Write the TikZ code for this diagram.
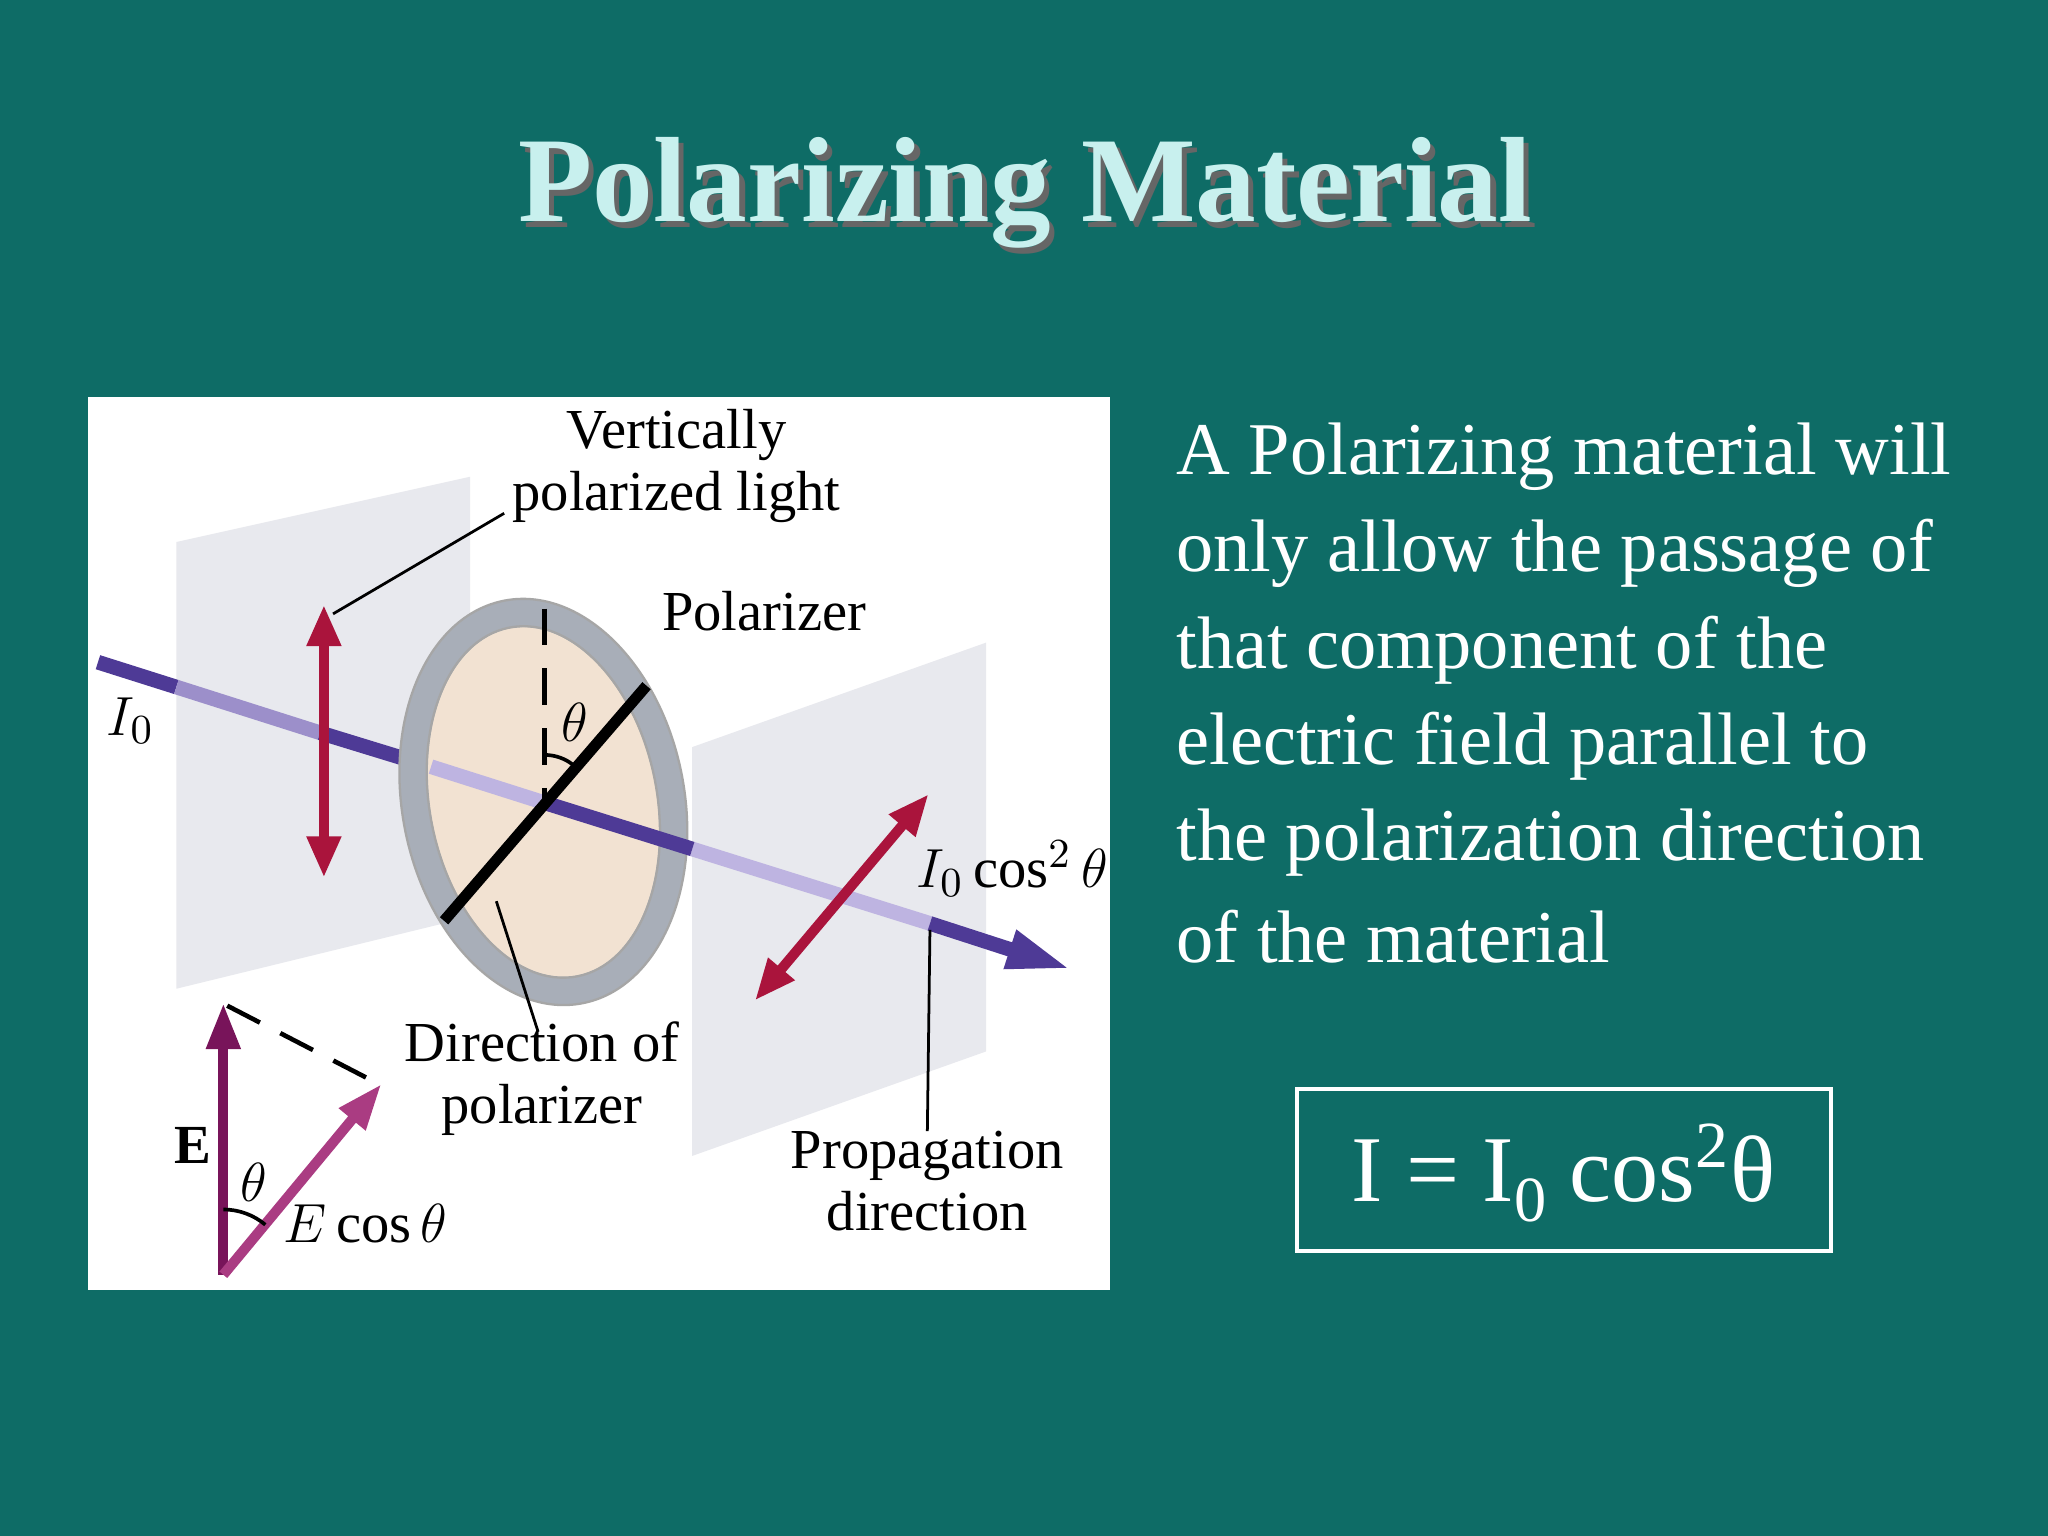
\documentclass[tikz,border=0pt]{standalone}
\usepackage{fontspec}
\setmainfont{Liberation Serif}
\usetikzlibrary{arrows.meta,shadows}
\definecolor{bg}{RGB}{14,108,102}
\definecolor{ttl}{RGB}{200,240,238}
\definecolor{panel}{RGB}{232,233,238}
\definecolor{beam}{RGB}{78,58,150}
\definecolor{beamlt}{RGB}{190,180,225}
\definecolor{redarr}{RGB}{170,20,60}
\definecolor{ring}{RGB}{168,174,184}
\definecolor{disk}{RGB}{242,226,210}
\definecolor{evec}{RGB}{120,20,90}
\definecolor{ecos}{RGB}{170,60,130}
\tikzset{
  lbl/.style={font=\fontsize{12.3}{13.5}\selectfont, align=center, inner sep=0pt},
  body/.style={font=\fontsize{16.2}{21}\selectfont, text=white, anchor=west, inner sep=0pt},
  dbl/.style={redarr, line width=2.2pt, {Triangle[length=9pt,width=7pt]}-{Triangle[length=9pt,width=7pt]}},
  lead/.style={black, line width=0.6pt}
}
\begin{document}
\begin{tikzpicture}[x=0.01cm,y=-0.01cm]
\fill[bg] (0,0) rectangle (1568,1176);
\useasboundingbox (0,0) rectangle (1568,1176);
% title
\node[text=black!60, font=\fontsize{26.4}{32}\selectfont\bfseries] at (789,152) {Polarizing Material};
\node (title) [text=ttl, font=\fontsize{26.4}{32}\selectfont\bfseries] at (785,148) {Polarizing Material};
% white box
\fill[white] (67,304) rectangle (850,988);
% panels
\fill[panel] (135,415) -- (360,365) -- (360,702) -- (135,757) -- cycle;
\fill[panel] (530,572) -- (755,492) -- (755,805) -- (530,885) -- cycle;
% beam
\coordinate (b5) at (820,742);
\draw[beam, line width=3.2pt] (75,507) -- (135,526);
\draw[beamlt!70!beam, line width=3.2pt] (135,526) -- (245,561);
\draw[beam, line width=3.2pt] (245,561) -- (320,584);
\draw[beamlt, line width=3.2pt] (320,584) -- (415,614);
\draw[beamlt, line width=3.2pt] (530,650) -- (712,707);
\draw[beam, line width=3.2pt, -{Triangle[length=14pt,width=8pt]}] (712,707) -- (b5);
% vertical arrow
\coordinate (va) at (248,463); \coordinate (vb) at (248,672);
\draw[dbl] (va) -- (vb);
% polarizer
\draw[ring, line width=6pt, fill=disk, rotate around={11:(416,614)}] (416,614) ellipse (97 and 146);
\draw[black!35, line width=0.5pt, rotate around={11:(416,614)}] (416,614) ellipse (108 and 157);
\draw[black!35, line width=0.5pt, rotate around={11:(416,614)}] (416,614) ellipse (87 and 136);
\draw[beamlt, line width=3.2pt] (330,587) -- (415,614);
\draw[beam, line width=3.2pt] (415,614) -- (530,650);
\draw[dashed, line width=1.2pt, dash pattern=on 8pt off 5pt] (417,466) -- (417,613);
\draw[black, line width=2.4pt] (340,705) -- (495,525);
\draw[line width=0.8pt] (417,578) arc[start angle=-90, end angle=-50, radius=35];
\node[lbl] at (440,553) {$\theta$};
% right arrow
\draw[dbl] (578,766) -- (711,608);
% labels
\node (vpl) [lbl] at (518,357) {Vertically\\polarized light};
\draw[lead] (386,393) -- (255,470);
\node (pol) [lbl] at (585,468) {Polarizer};
\node (i0) [lbl] at (100,552) {$I_0$};
\node (i0c) [lbl] at (775,665) {$I_0\cos^2\theta$};
\node (dir) [lbl] at (415,826) {Direction of\\polarizer};
\draw[lead] (412,790) -- (380,690);
\node (prop) [lbl] at (710,904) {Propagation\\direction};
\draw[lead] (710,866) -- (712,712);
% vector diagram
\coordinate (o) at (171,976); \coordinate (e) at (171,768); \coordinate (ec) at (292,830);
\draw[evec, line width=2.2pt, -{Triangle[length=10pt,width=7pt]}] (o) -- (e);
\draw[ecos, line width=2.2pt, -{Triangle[length=10pt,width=7pt]}] (o) -- (ec);
\draw[dashed, line width=1pt, dash pattern=on 8pt off 5pt] (174,770) -- (290,830);
\draw[line width=0.8pt] (171,926) arc[start angle=-90, end angle=-50, radius=50];
\node (E) [lbl, font=\fontsize{12}{13}\selectfont\bfseries] at (148,877) {E};
\node[lbl] at (194,905) {$\theta$};
\node (Ec) [lbl] at (280,937) {$E\cos\theta$};
% body text
\node[body] at (900,350) {A Polarizing material will};
\node[body] at (900,424) {only allow the passage of};
\node[body] at (900,498) {that component of the};
\node[body] at (900,571) {electric field parallel to};
\node[body] at (900,645) {the polarization direction};
\node[body] at (900,717) {of the material};
\draw[white, line width=0.8pt] (993,834) rectangle (1402,958);
\node (f) [text=white, font=\fontsize{20.5}{24}\selectfont] at (1197,898) {I = I\raisebox{-0.45ex}{\fontsize{14}{14}\selectfont 0} cos\textsuperscript{2}θ};
\end{tikzpicture}
\end{document}
